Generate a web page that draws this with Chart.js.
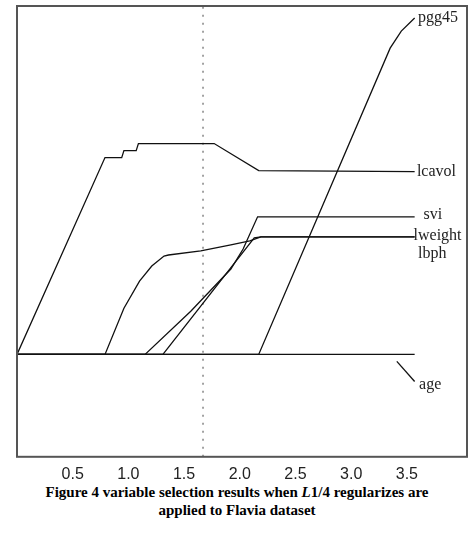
<!DOCTYPE html>
<html>
<head>
<meta charset="utf-8">
<script src="https://cdn.jsdelivr.net/npm/chart.js@4"></script>
<style>
  body { margin: 0; background: #fff; }
  #wrap { width: 474px; height: 484px; }
  .caption { font-family: "Liberation Serif", serif; font-weight: bold; font-size: 15px; text-align: center; line-height: 18px; margin-top: -1px; }
</style>
</head>
<body>
<div id="wrap"><canvas id="c"></canvas></div>
<div class="caption">Figure 4 variable selection results when <i>L</i>1/4 regularizes are<br>applied to Flavia dataset</div>
<script>
// Chemins de régularisation (lambda, coefficient)
const age = [[0, 0], [3.57, 0]];
const pgg45 = [[0, 0], [2.17, 0], [3.35, 3.05], [3.45, 3.22], [3.57, 3.35]];
const lcavol = [[0, 0], [0.79, 1.96], [0.94, 1.96], [0.96, 2.03], [1.07, 2.03], [1.09, 2.10], [1.77, 2.10], [2.17, 1.83], [3.57, 1.82]];
const svi = [[0, 0], [1.15, 0], [1.56, 0.43], [1.92, 0.85], [2.03, 1.05], [2.16, 1.37], [3.57, 1.37]];
const lweight = [[0, 0], [0.79, 0], [0.96, 0.46], [1.1, 0.73], [1.21, 0.88], [1.32, 0.98], [1.36, 0.99], [1.65, 1.03], [1.92, 1.09], [2.09, 1.13], [2.19, 1.17], [3.57, 1.17]];
const lbph = [[0, 0], [1.31, 0], [2.13, 1.16], [2.19, 1.17], [3.57, 1.17]];
const ageLeader = [[3.41, -0.07], [3.57, -0.27]];
const lambdaChoisi = 1.67;
const xTicks = [0.5, 1.0, 1.5, 2.0, 2.5, 3.0, 3.5];

// Etiquettes des variables : [texte, x, y]
const labels = [
  ["pgg45", 3.6, 3.35], ["lcavol", 3.59, 1.82], ["svi", 3.65, 1.39],
  ["lweight", 3.56, 1.18], ["lbph", 3.6, 1.0], ["age", 3.61, -0.3]
];

const pts = (arr) => arr.map((p) => ({ x: p[0], y: p[1] }));
const ligne = (arr, extra) => Object.assign({
  data: pts(arr), borderColor: "#111", borderWidth: 1.3, pointRadius: 0, tension: 0, fill: false
}, extra || {});

const cadre = {
  id: "cadre",
  afterDraw(chart) {
    const { ctx, chartArea: a, scales } = chart;
    ctx.save();
    ctx.strokeStyle = "#555";
    ctx.lineWidth = 2;
    ctx.strokeRect(a.left, a.top, a.right - a.left, a.bottom - a.top);
    ctx.fillStyle = "#222";
    ctx.font = '16px "Liberation Serif", serif';
    ctx.textBaseline = "middle";
    labels.forEach(([t, x, y]) => {
      ctx.fillText(t, scales.x.getPixelForValue(x), scales.y.getPixelForValue(y));
    });
    ctx.restore();
  }
};

new Chart(document.getElementById("c"), {
  type: "line",
  data: {
    datasets: [
      ligne(age), ligne(pgg45), ligne(lcavol), ligne(svi), ligne(lweight), ligne(lbph), ligne(ageLeader),
      ligne([[lambdaChoisi, -1.02], [lambdaChoisi, 3.47]], { borderDash: [2, 6], borderWidth: 1.2, borderColor: "#666" })
    ]
  },
  options: {
    responsive: true,
    maintainAspectRatio: false,
    animation: false,
    layout: { padding: { left: 17, right: 7, top: 6 } },
    plugins: { legend: { display: false }, tooltip: { enabled: false } },
    scales: {
      x: {
        type: "linear", min: 0, max: 4.04,
        afterBuildTicks: (axis) => { axis.ticks = xTicks.map((v) => ({ value: v })); },
        grid: { display: false },
        border: { display: false },
        ticks: { color: "#222", font: { family: "Liberation Sans", size: 16 }, padding: 0, callback: (v) => v.toFixed(1), maxRotation: 0 }
      },
      y: { display: false, min: -1.02, max: 3.47 }
    }
  },
  plugins: [cadre]
});
</script>
</body>
</html>
